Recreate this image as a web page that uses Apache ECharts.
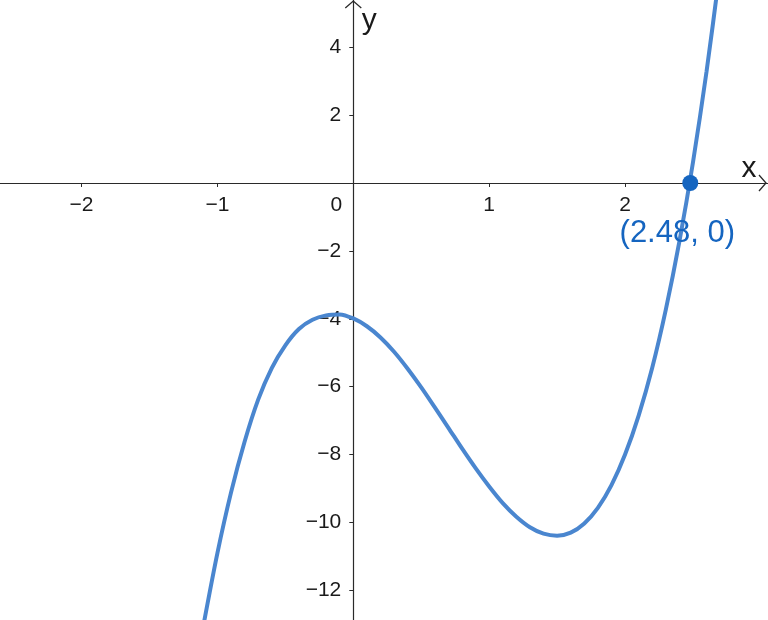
<!DOCTYPE html>
<html><head><meta charset="utf-8">
<script src="https://cdn.jsdelivr.net/npm/echarts@6/dist/echarts.min.js"></script>
<style>html,body{margin:0;padding:0;background:#fff}#c{width:768px;height:620px}</style>
</head><body><div id="c"></div>
<script>
// Curve points
const curveX = [-1.1, -1.0, -0.9, -0.8, -0.7, -0.6, -0.5, -0.4, -0.3, -0.2, -0.1, 0, 0.1, 0.2, 0.3, 0.4, 0.5, 0.6, 0.7, 0.8, 0.9, 1.0, 1.1, 1.2, 1.3, 1.4, 1.5, 1.6, 1.7, 1.8, 1.9, 2.0, 2.1, 2.2, 2.3, 2.4, 2.5, 2.6, 2.7];
const curveY = [-12.97, -10.90, -9.12, -7.62, -6.38, -5.45, -4.78, -4.30, -4.03, -3.90, -3.87, -3.99, -4.22, -4.55, -4.97, -5.47, -6.02, -6.61, -7.21, -7.82, -8.40, -8.94, -9.43, -9.83, -10.14, -10.33, -10.39, -10.30, -10.03, -9.57, -8.90, -8.00, -6.85, -5.44, -3.73, -1.72, 0.61, 3.29, 6.33];
const rootPoint = [2.48, 0];
const xTickValues = [-2, -1, 0, 1, 2];
const yTickValues = [-12, -10, -8, -6, -4, -2, 2, 4];
const xRange = [-2.6, 3.052];
const yRange = [-12.872, 5.39];

const FONT = 'Liberation Sans, Arial, sans-serif';
const AX = '#2a2a2a';
const fmt = v => String(v).replace('-', '\u2212');

const chart = echarts.init(document.getElementById('c'), null, {renderer: 'canvas'});
const option = {
  animation: false,
  backgroundColor: '#ffffff',
  grid: {left: 0, right: 0, top: 0, bottom: 0, containLabel: false, outerBoundsMode: 'none'},
  xAxis: {
    type: 'value', min: xRange[0], max: xRange[1], position: 'bottom', offset: 0,
    axisLine: {show: true, onZero: false, lineStyle: {color: AX, width: 1.2}},
    axisTick: {show: true, length: 4, customValues: xTickValues.filter(v => v !== 0), lineStyle: {color: AX}},
    axisLabel: {
      show: true, customValues: xTickValues, margin: 12,
      fontSize: 21, fontFamily: FONT, color: '#1a1a1a',
      formatter: v => v === 0 ? '{o|0}' : fmt(v),
      rich: {o: {fontSize: 21, fontFamily: FONT, color: '#1a1a1a', padding: [0, 34, 0, 0]}}
    },
    splitLine: {show: false}
  },
  yAxis: {
    type: 'value', min: yRange[0], max: yRange[1], position: 'left', offset: 0,
    axisLine: {show: true, onZero: false, lineStyle: {color: AX, width: 1.2}},
    axisTick: {show: true, length: 4, customValues: yTickValues, lineStyle: {color: AX}},
    axisLabel: {
      show: true, customValues: yTickValues, margin: 12,
      fontSize: 21, fontFamily: FONT, color: '#1a1a1a', formatter: fmt
    },
    splitLine: {show: false}
  },
  series: [
    {
      type: 'line', data: curveX.map((x, i) => [x, curveY[i]]),
      smooth: 0.3, showSymbol: false, clip: true,
      lineStyle: {color: '#4a86cf', width: 4}, z: 2
    },
    {
      type: 'scatter', data: [rootPoint], symbolSize: 16,
      itemStyle: {color: '#1565c0', opacity: 1}, z: 3,
      emphasis: {disabled: true},
      label: {
        show: true, position: 'bottom', distance: 6, offset: [-13, 21],
        formatter: p => '(' + p.value[0] + ', ' + p.value[1] + ')',
        fontSize: 31, fontFamily: FONT, color: '#1565c0', opacity: 1
      }
    }
  ]
};
chart.setOption(option);

// move the axes so they cross at the origin (positions from the library's scales)
const o = chart.convertToPixel({gridIndex: 0}, [0, 0]);
const bl = chart.convertToPixel({gridIndex: 0}, [xRange[0], yRange[0]]);
chart.setOption({xAxis: {offset: o[1] - bl[1]}, yAxis: {offset: bl[0] - o[0]}});

const xEnd = chart.convertToPixel({gridIndex: 0}, [xRange[1], 0]);
const yEnd = chart.convertToPixel({gridIndex: 0}, [0, yRange[1]]);
const xt = xEnd[0] - 2, xy = xEnd[1];
const yx = yEnd[0], yt = yEnd[1] + 1;
chart.setOption({
  graphic: [
    {type: 'polyline', shape: {points: [[xt - 7, xy - 8], [xt, xy], [xt - 7, xy + 8]]}, style: {stroke: AX, lineWidth: 1.3, fill: null}, z: 10},
    {type: 'polyline', shape: {points: [[yx - 8, yt + 7], [yx, yt], [yx + 8, yt + 7]]}, style: {stroke: AX, lineWidth: 1.3, fill: null}, z: 10},
    {type: 'text', x: xEnd[0] - 19, y: xy - 14, style: {text: 'x', font: '30px ' + FONT, fill: '#1a1a1a', align: 'center', verticalAlign: 'middle'}, z: 10},
    {type: 'text', x: yx + 16, y: yt + 20, style: {text: 'y', font: '30px ' + FONT, fill: '#1a1a1a', align: 'center', verticalAlign: 'middle'}, z: 10}
  ]
});
</script></body></html>
